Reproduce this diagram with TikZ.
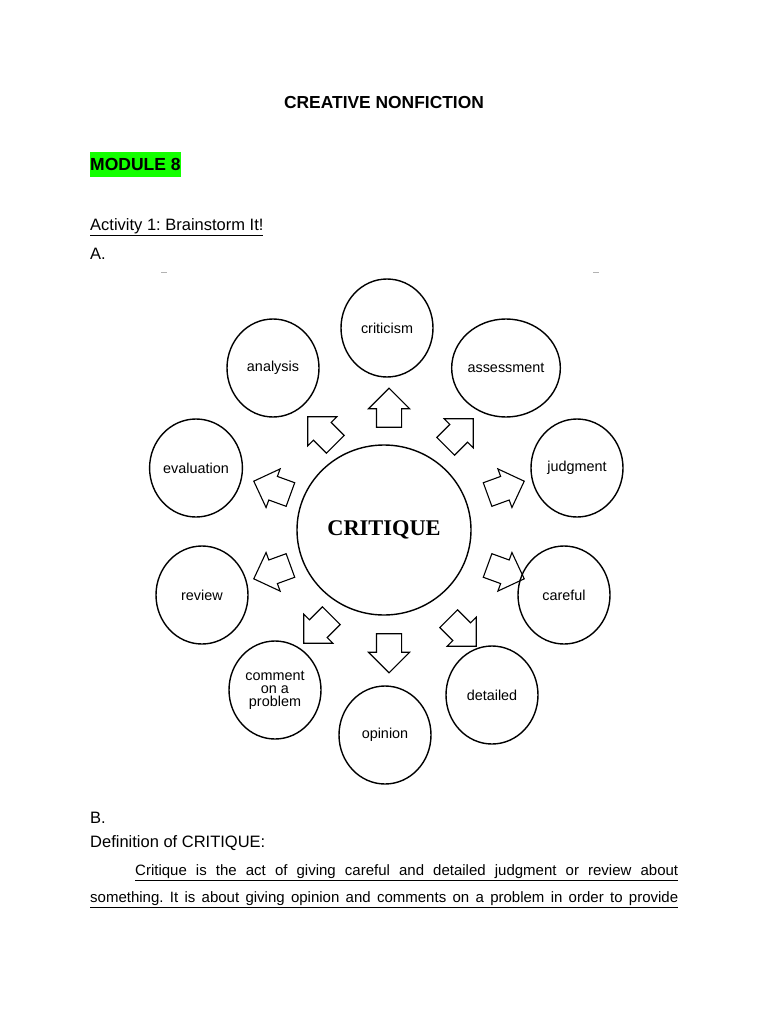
\documentclass[tikz,border=0pt]{standalone}
\usepackage{fontspec}
\setmainfont{Liberation Sans}
\newfontfamily\serifb{Liberation Serif}
\usetikzlibrary{shapes.geometric,shapes.arrows}
\frenchspacing
\begin{document}
\begin{tikzpicture}[x=1pt,y=-1pt,
  bub/.style={draw,line width=1.4pt,ellipse,minimum width=92pt,minimum height=98pt,inner sep=0pt,font=\fontsize{14.4}{15}\selectfont,align=center},
  arr/.style={draw,line width=1.1pt,single arrow,minimum height=39pt,minimum width=40pt,inner sep=12pt,single arrow head extend=8pt,anchor=center},
  txt/.style={anchor=west,inner sep=0pt,font=\fontsize{16.5}{18}\selectfont},
  par/.style={anchor=west,inner sep=0pt,font=\fontsize{15}{18}\selectfont}]
\useasboundingbox[fill=white] (0,0) rectangle (768,1024);
\node[font=\bfseries\fontsize{17.4}{20}\selectfont] (title) at (384,103) {CREATIVE NONFICTION};
\fill[green!90!lime] (90,152) rectangle (181,177);
\node[txt,font=\bfseries\fontsize{17.5}{20}\selectfont] (mod) at (90,164.5) {MODULE 8};
\node[txt] (act) at (90,227) {\underline{Activity 1: Brainstorm It!}};
\node[txt] (a) at (90,254) {A.};
\draw[gray!60,line width=0.6pt] (161,272) -- (167,272) (593,272) -- (599,272);
\node[draw,line width=1.4pt,ellipse,minimum width=174pt,minimum height=170pt,font=\serifb\bfseries\fontsize{22.4}{26}\selectfont] (c) at (384,530) {CRITIQUE};
\node[bub] (n1) at (387,328) {criticism};
\node[bub] (n2) at (506,368) {assessment};
\node[bub] (n3) at (577,468) {judgment};
\node[bub] (n4) at (564,595) {careful};
\node[bub] (n5) at (492,695) {detailed};
\node[bub] (n6) at (385,735) {opinion};
\node[bub] (n7) at (275,690) {comment\\[-2pt]on a\\[-2pt]problem};
\node[bub] (n8) at (202,595) {review};
\node[bub] (n9) at (196,468) {evaluation};
\node[bub] (n10) at (273,368) {analysis};
\foreach \i/\x/\y/\r in {1/389/414/90, 2/455/437/45, 3/500/490/20, 4/500/570/-20, 5/458/628/-45, 6/389/647/-90, 7/322/625/-135, 8/278/570/-160, 9/278/490/160, 10/326/435/135}
  \node[arr,rotate=\r] (ar\i) at (\x,\y) {};
\node[txt] (b) at (90,818) {B.};
\node[txt] (def) at (90,843) {Definition of CRITIQUE:};
\node[par] (p1) at (135,873) {\underline{\makebox[543pt][s]{Critique is the act of giving careful and detailed judgment or review about}}};
\node[par] (p2) at (90,900) {\underline{\makebox[588pt][s]{something. It is about giving opinion and comments on a problem in order to provide}}};
\end{tikzpicture}
\end{document}
